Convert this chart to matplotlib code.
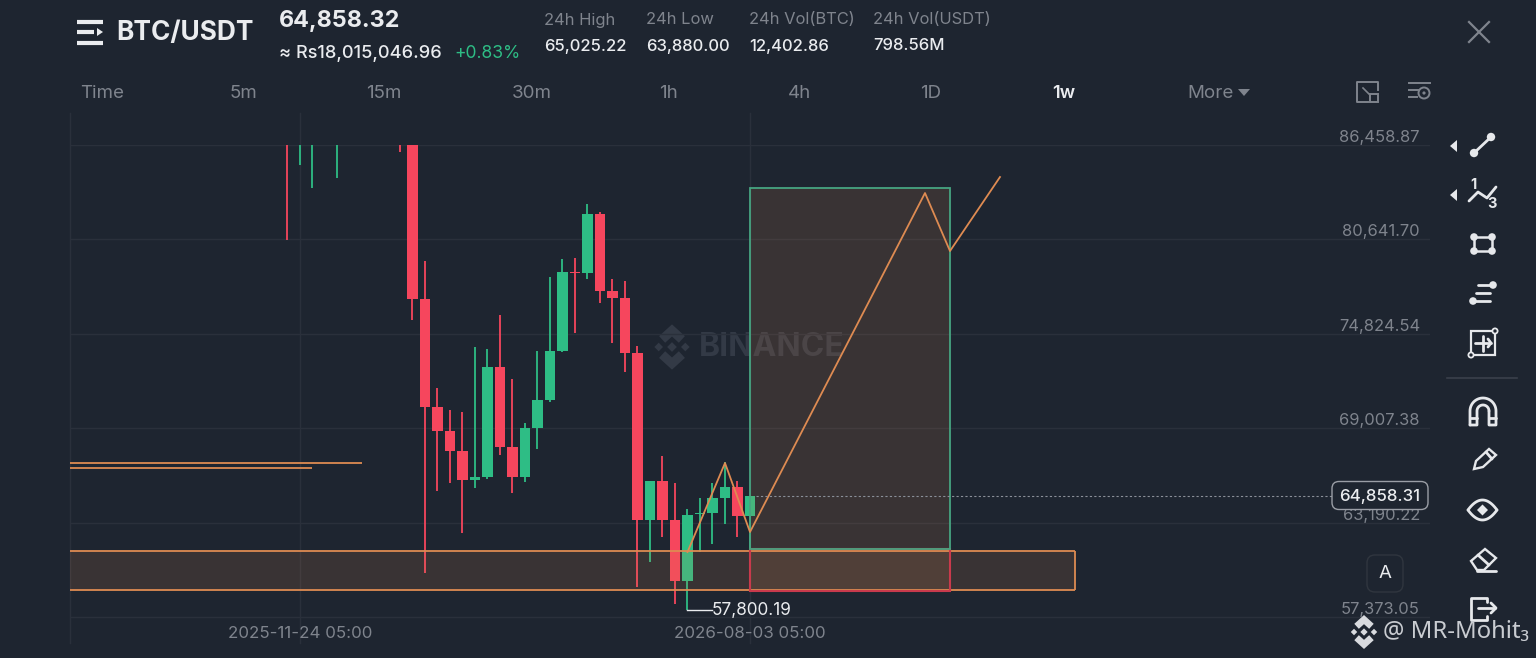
"""BTC/USDT weekly candles with drawings, Binance mobile chart screen."""

import matplotlib

matplotlib.use("Agg")

import matplotlib.pyplot as plt
import numpy as np
from matplotlib.patches import Circle, FancyBboxPatch, Polygon, Rectangle

W, H = 1536, 658
BG = "#1e2530"
GRID = "#2a303b"
RED = "#f6465d"
GREEN = "#2ebd85"
ORANGE = "#de8b52"
MUTED = "#7f848d"
WHITE = "#eaecef"
ICON = "#e6e8eb"
FONT = ["Inter", "Noto Sans", "DejaVu Sans"]

# candles, week 0 is the big red one at the top edge; 27 is the live one
weeks = list(range(-1, 28)) + [-10, -9, -8, -6]
opens = [88000, 91000, 76950, 70332, 68834, 67620, 65815, 66000, 72797, 67867, 66018, 69050, 70726,
         73764, 78650, 78552, 82187, 77443, 77048, 73659, 63350, 65753, 63350, 59610, 63701, 63800,
         64724, 65402, 63597, 92500, 92000, 92000, 92000]
closes = [87500, 76950, 70332, 68834, 67620, 65815, 65981, 72797, 67867, 66018, 69050, 70726, 73764,
          78632, 78552, 82187, 77443, 77048, 73659, 63350, 65753, 63350, 59610, 63658, 63800, 64724,
          65402, 63597, 64858, 92000, 92500, 92500, 92500]
highs = [92000, 92000, 79328, 71465, 70128, 69987, 74029, 73906, 75982, 72039, 69309, 73764, 78305,
         79451, 79476, 82804, 82348, 78182, 78077, 74072, 65753, 67294, 65649, 64010, 64724, 65612,
         66943, 65753, 64858, 93000, 93000, 93000, 93000]
lows = [86045, 75674, 60066, 65137, 65649, 62531, 65303, 65858, 67355, 64995, 65710, 67725, 70603,
        73721, 74892, 78201, 76703, 74275, 72489, 59203, 60781, 62284, 58156, 57800.19, 61397, 61853,
        63104, 62284, 61440, 80604, 85225, 83789, 84406]

price_ticks = [86458.87, 80641.70, 74824.54, 69007.38, 63190.22, 57373.05]
price_labels = ["86,458.87", "80,641.70", "74,824.54", "69,007.38", "63,190.22", "57,373.05"]
date_weeks = [-9, 27]
date_labels = ["2025-11-24 05:00", "2026-08-03 05:00"]

zone_prices = [59006, 61440]
zone_end = 53
left_lines_price = [66862, 66524]
left_lines_end = [-4, -8]
entry_week, exit_week = 27, 43
target, entry, stop = 83808, 61563, 58975
path_weeks = [22, 25, 27, 41, 43, 47]
path_prices = [61378, 66862, 62611, 83500, 79926, 84486]
last_price = 64858.31
period_low = 57800.19

tabs = ["Time", "5m", "15m", "30m", "1h", "4h", "1D", "1w", "More"]
tab_x = [80, 230, 366, 512, 659, 788, 920, 1052, 1187]
stats = ["24h High", "24h Low", "24h Vol(BTC)", "24h Vol(USDT)"]
stat_values = ["65,025.22", "63,880.00", "12,402.86", "798.56M"]
stat_x = [544, 646, 749, 873]

fig = plt.figure(figsize=(W / 100, H / 100), dpi=100, facecolor=BG)


def full_axes(zorder):
    a = fig.add_axes([0, 0, 1, 1], zorder=zorder)
    a.set_xlim(0, W)
    a.set_ylim(H, 0)
    a.axis("off")
    return a


back = full_axes(0)
ui = full_axes(3)

ax = fig.add_axes([70 / W, (H - 620) / H, 1360 / W, 475 / H], zorder=1)
ax.patch.set_alpha(0)
ax.set_xlim(-27.4, 81.4)
ax.set_ylim(57188, 86458.87)
for s in ax.spines.values():
    s.set_visible(False)

# grid
for p in price_ticks:
    ax.axhline(p, color=GRID, lw=1, zorder=1)
for wk in [-27.4] + date_weeks:
    ax.axvline(wk, ymin=-0.048, ymax=1.067, color=GRID, lw=1, zorder=1, clip_on=False)

ax.yaxis.tick_right()
ax.set_yticks(price_ticks, price_labels)
ax.tick_params(axis="y", length=0, pad=-7.2, labelcolor=MUTED, labelsize=11.9)
for t in ax.get_yticklabels():
    t.set_ha("right")
    t.set_va("bottom")
    t.set_family(FONT)
ax.set_xticks(date_weeks, date_labels)
ax.tick_params(axis="x", length=0, pad=4.5, labelcolor=MUTED, labelsize=12.2)
for t in ax.get_xticklabels():
    t.set_family(FONT)

# candles
o, c, h, l, x = map(np.array, (opens, closes, highs, lows, weeks))
colors = np.where(c >= o, GREEN, RED)
ax.vlines(x, l, h, colors=colors, lw=1.3, zorder=2)
ax.bar(x, np.abs(c - o), bottom=np.minimum(o, c), width=0.86, color=colors, zorder=3)

# support zone and the two short levels on the left
ax.add_patch(Rectangle((-27.4, zone_prices[0]), zone_end + 27.4, zone_prices[1] - zone_prices[0],
                       fc=ORANGE, alpha=0.14, lw=0, zorder=4))
ax.hlines(zone_prices, -27.4, zone_end, color=ORANGE, lw=1.3, zorder=5)
ax.vlines(zone_end, *zone_prices, color=ORANGE, lw=1.3, zorder=5)
ax.hlines(left_lines_price, -27.4, left_lines_end, color=ORANGE, lw=1.3, zorder=5)

# long position box
span = exit_week - entry_week
ax.add_patch(Rectangle((entry_week, entry), span, target - entry, fc=ORANGE, alpha=0.14, lw=0, zorder=4))
ax.add_patch(Rectangle((entry_week, stop), span, entry - stop, fc=ORANGE, alpha=0.14, lw=0, zorder=4))
ax.add_patch(Rectangle((entry_week, stop), span, entry - stop, fc="none", ec="#c93a4c", lw=1.5, zorder=5))
ax.add_patch(Rectangle((entry_week, entry), span, target - entry, fc="none", ec="#46a581", lw=1.3, zorder=5.5))

ax.plot(path_weeks, path_prices, color=ORANGE, lw=1.3, zorder=6)

# last price line, low marker
ax.hlines(last_price, 27.5, 73.6, color="#8a8f98", lw=0.8, ls=(0, (2, 2)), zorder=6)
ax.plot([22, 24], [period_low, period_low], color=WHITE, lw=1, zorder=6)
ax.text(23.9, period_low, "57,800.19", color=WHITE, fontsize=12.4, family=FONT, va="center", zorder=7)


def logo(a, cx, cy, s, color, zorder=2):
    def dia(px, py, r):
        a.add_patch(Polygon([(px - r, py), (px, py - r), (px + r, py), (px, py + r)], fc=color, lw=0, zorder=zorder))

    dia(cx, cy, 0.27 * s)
    dia(cx - 0.74 * s, cy, 0.24 * s)
    dia(cx + 0.74 * s, cy, 0.24 * s)
    lw = 0.36 * s
    for sign in (-1, 1):
        a.plot([cx - 0.55 * s, cx, cx + 0.55 * s], [cy + sign * 0.42 * s, cy + sign * 0.92 * s, cy + sign * 0.42 * s],
               color=color, lw=lw, solid_joinstyle="miter", solid_capstyle="butt", zorder=zorder)


# watermark
logo(back, 672, 347, 18, "#333a46")
back.text(699, 348, "BINANCE", color="#333a46", fontsize=23, weight="bold", family=FONT, va="center")

# header
ui.text(116, 33, "BTC/USDT", color=WHITE, fontsize=18.9, weight="bold", family=FONT, va="center")
ui.text(279, 21, "64,858.32", color=WHITE, fontsize=16.8, weight="bold", family=FONT, va="center")
ui.text(279, 54, "≈ Rs18,015,046.96", color=WHITE, fontsize=13.1, weight="medium", family=FONT, va="center")
ui.text(454, 54, "+0.83%", color=GREEN, fontsize=12.6, family=FONT, va="center")
for sx, label, val in zip(stat_x, stats, stat_values):
    ui.text(sx, 20, label, color=MUTED, fontsize=11.9, family=FONT, va="center")
    ui.text(sx, 46, val, color=WHITE, fontsize=12, weight="medium", family=FONT, va="center")
for tx, label in zip(tab_x, tabs):
    if label == "1w":
        ui.text(tx, 94, label, color=WHITE, fontsize=13.2, weight="semibold", family=FONT, va="center")
    else:
        ui.text(tx, 94, label, color=MUTED, fontsize=13.5, family=FONT, va="center")
ui.add_patch(Polygon([(1238, 89), (1250, 89), (1244, 96)], fc=MUTED, lw=0))

# menu icon
for yy, x1 in [(21.5, 103), (32, 94), (43, 103)]:
    ui.plot([77, x1], [yy, yy], color=WHITE, lw=3, solid_capstyle="butt")
ui.add_patch(Polygon([(97, 28), (103, 32), (97, 36)], fc=WHITE, lw=0))
# close
ui.plot([1469, 1489], [22, 42], color=MUTED, lw=1.6)
ui.plot([1469, 1489], [42, 22], color=MUTED, lw=1.6)

# top right icons
ui.plot([1378, 1378, 1357, 1357, 1368], [90, 82, 82, 102, 102], color=MUTED, lw=1.4)
ui.add_patch(Rectangle((1370, 94), 8, 8, fc="none", ec=MUTED, lw=1.4))
ui.plot([1363, 1369], [88, 94], color=MUTED, lw=1.2)
ui.plot([1409, 1430], [83, 83], color=MUTED, lw=1.4)
ui.plot([1409, 1418], [90, 90], color=MUTED, lw=1.4)
ui.plot([1409, 1417], [97, 97], color=MUTED, lw=1.4)
ui.add_patch(Circle((1424, 93), 5.5, fc="none", ec=MUTED, lw=1.4))
ui.add_patch(Circle((1424, 93), 1.6, fc=MUTED, lw=0))

# price tag and auto button
ui.add_patch(FancyBboxPatch((1332, 481.5), 96, 28, boxstyle="round,pad=0,rounding_size=7", fc=BG, ec="#9a9ea6", lw=1))
ui.text(1380, 496, "64,858.31", color=WHITE, fontsize=12.2, weight="medium", family=FONT, ha="center", va="center")
ui.add_patch(FancyBboxPatch((1367, 555), 36, 37, boxstyle="round,pad=0,rounding_size=8", fc=BG, ec="#30363f", lw=1))
ui.text(1385, 574, "A", color=WHITE, fontsize=13.5, family=FONT, ha="center", va="center")

# drawing toolbar
ic = dict(color=ICON, lw=2, solid_capstyle="round", solid_joinstyle="round")
for yy in (146, 195):
    ui.add_patch(Polygon([(1457, yy - 6), (1457, yy + 6), (1450, yy)], fc=ICON, lw=0))
ui.plot([1474, 1491], [153, 137], **ic)
ui.add_patch(Circle((1474, 153), 4.2, fc=ICON, lw=0))
ui.add_patch(Circle((1491, 137), 4.2, fc=ICON, lw=0))
ui.plot([1469, 1478, 1487, 1496], [201, 192, 198, 187], **ic)
ui.text(1473, 185, "1", color=ICON, fontsize=10.5, weight="bold", family=FONT, ha="center", va="center")
ui.text(1492, 204, "3", color=ICON, fontsize=10.5, weight="bold", family=FONT, ha="center", va="center")
ui.add_patch(Rectangle((1474, 237), 18, 14, fc="none", ec=ICON, lw=1.8))
for px, py in [(1474, 237), (1492, 237), (1474, 251), (1492, 251)]:
    ui.add_patch(Circle((px, py), 3.8, fc=ICON, lw=0))
ui.plot([1478, 1491], [285, 285], **ic)
ui.plot([1476, 1490], [293, 293], **ic)
ui.plot([1473, 1490], [301, 301], **ic)
ui.add_patch(Circle((1493, 285), 3.8, fc=ICON, lw=0))
ui.add_patch(Circle((1473, 301), 3.8, fc=ICON, lw=0))
ui.add_patch(Rectangle((1471, 331), 24, 24, fc="none", ec=ICON, lw=1.6))
ui.add_patch(Circle((1495, 331), 2.6, fc=BG, ec=ICON, lw=1.3))
ui.add_patch(Circle((1471, 355), 2.6, fc=BG, ec=ICON, lw=1.3))
ui.plot([1483, 1483], [336, 351], **ic)
ui.plot([1475, 1491], [343, 343], **ic)
ui.plot([1488, 1491, 1488], [339, 343, 347], **ic)
ui.plot([1447, 1517], [378, 378], color="#3a404b", lw=1.2)

# magnet
t = np.linspace(np.pi, 2 * np.pi, 30)
ui.plot(np.r_[1470, 1483 + 13 * np.cos(t), 1496, 1489, 1489], np.r_[425, 411 + 13 * np.sin(t), 425, 425, 411], **ic)
ui.plot(np.r_[1470, 1477, 1477, 1483 + 6 * np.cos(t), 1489], np.r_[425, 425, 411, 411 + 6 * np.sin(t), 411], **ic)
ui.plot([1470, 1477], [418, 418], **ic)
ui.plot([1489, 1496], [418, 418], **ic)
# pencil
ui.add_patch(Polygon([(1474, 469), (1476, 461), (1489, 449), (1496, 455), (1483, 467)], fc="none", ec=ICON, lw=1.7))
ui.plot([1486, 1492], [452, 459], **ic)
# eye
t = np.linspace(-1, 1, 30)
ui.plot(1482.5 + 14.5 * t, 510 - 10 * (1 - t ** 2), **ic)
ui.plot(1482.5 + 14.5 * t, 510 + 10 * (1 - t ** 2), **ic)
ui.add_patch(Polygon([(1477, 510), (1482.5, 504.5), (1488, 510), (1482.5, 515.5)], fc=ICON, lw=0))
# eraser
ui.add_patch(Polygon([(1471, 561), (1485, 549), (1496, 558), (1484, 570), (1477, 570)], fc="none", ec=ICON, lw=1.7))
ui.plot([1478, 1489], [555, 565], **ic)
ui.plot([1477, 1496], [570.5, 570.5], **ic)
# exit
ui.plot([1487, 1487, 1471, 1471, 1487, 1487], [602, 598, 598, 620, 620, 616], **ic)
ui.plot([1478, 1495], [608, 608], **ic)
ui.plot([1491, 1496, 1491], [603, 608, 613], **ic)

# author overlay
logo(ui, 1364, 632, 13.5, "#d8dade", zorder=8)
ui.text(1383, 632, "@ MR-Mohit₃", color="#c9ccd1", fontsize=17.2, family=["Noto Sans", "DejaVu Sans"],
        va="center", zorder=8)

fig.savefig("out.png", dpi=100, facecolor=BG)
